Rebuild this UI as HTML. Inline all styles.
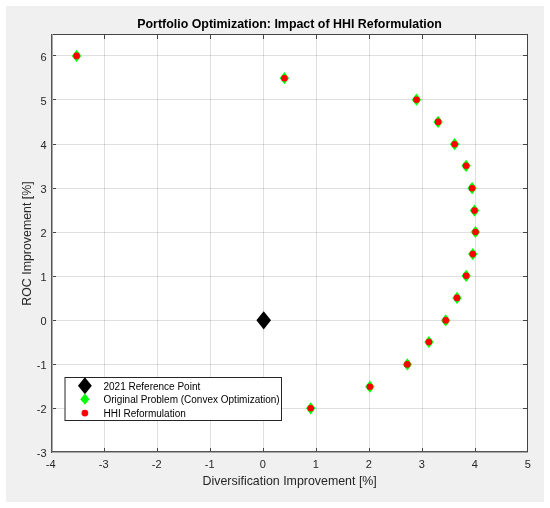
<!DOCTYPE html>
<html><head><meta charset="utf-8"><style>
html,body{margin:0;padding:0;background:#fff;}
svg{display:block;}
text{font-family:"Liberation Sans",Arial,sans-serif;}
</style></head><body>
<svg width="550" height="508" viewBox="0 0 550 508">
<rect x="0" y="0" width="550" height="508" fill="#ffffff"/>
<g>
<rect x="6" y="6" width="538" height="496" fill="#f0f0f0"/>

<rect x="51" y="34" width="477" height="418" fill="#ffffff"/>
<rect x="104" y="34" width="1" height="417" fill="rgba(38,38,38,0.15)"/>
<rect x="157" y="34" width="1" height="417" fill="rgba(38,38,38,0.15)"/>
<rect x="210" y="34" width="1" height="417" fill="rgba(38,38,38,0.15)"/>
<rect x="263" y="34" width="1" height="417" fill="rgba(38,38,38,0.15)"/>
<rect x="316" y="34" width="1" height="417" fill="rgba(38,38,38,0.15)"/>
<rect x="369" y="34" width="1" height="417" fill="rgba(38,38,38,0.15)"/>
<rect x="422" y="34" width="1" height="417" fill="rgba(38,38,38,0.15)"/>
<rect x="475" y="34" width="1" height="417" fill="rgba(38,38,38,0.15)"/>
<rect x="51" y="408" width="476" height="1" fill="rgba(38,38,38,0.15)"/>
<rect x="51" y="364" width="476" height="1" fill="rgba(38,38,38,0.15)"/>
<rect x="51" y="320" width="476" height="1" fill="rgba(38,38,38,0.15)"/>
<rect x="51" y="276" width="476" height="1" fill="rgba(38,38,38,0.15)"/>
<rect x="51" y="232" width="476" height="1" fill="rgba(38,38,38,0.15)"/>
<rect x="51" y="188" width="476" height="1" fill="rgba(38,38,38,0.15)"/>
<rect x="51" y="144" width="476" height="1" fill="rgba(38,38,38,0.15)"/>
<rect x="51" y="99" width="476" height="1" fill="rgba(38,38,38,0.15)"/>
<rect x="51" y="55" width="476" height="1" fill="rgba(38,38,38,0.15)"/>
<rect x="104" y="34" width="1" height="5" fill="#444"/>
<rect x="104" y="448" width="1" height="4" fill="#444"/>
<rect x="157" y="34" width="1" height="5" fill="#444"/>
<rect x="157" y="448" width="1" height="4" fill="#444"/>
<rect x="210" y="34" width="1" height="5" fill="#444"/>
<rect x="210" y="448" width="1" height="4" fill="#444"/>
<rect x="263" y="34" width="1" height="5" fill="#444"/>
<rect x="263" y="448" width="1" height="4" fill="#444"/>
<rect x="316" y="34" width="1" height="5" fill="#444"/>
<rect x="316" y="448" width="1" height="4" fill="#444"/>
<rect x="369" y="34" width="1" height="5" fill="#444"/>
<rect x="369" y="448" width="1" height="4" fill="#444"/>
<rect x="422" y="34" width="1" height="5" fill="#444"/>
<rect x="422" y="448" width="1" height="4" fill="#444"/>
<rect x="475" y="34" width="1" height="5" fill="#444"/>
<rect x="475" y="448" width="1" height="4" fill="#444"/>
<rect x="51" y="408" width="5" height="1" fill="#444"/>
<rect x="523" y="408" width="5" height="1" fill="#444"/>
<rect x="51" y="364" width="5" height="1" fill="#444"/>
<rect x="523" y="364" width="5" height="1" fill="#444"/>
<rect x="51" y="320" width="5" height="1" fill="#444"/>
<rect x="523" y="320" width="5" height="1" fill="#444"/>
<rect x="51" y="276" width="5" height="1" fill="#444"/>
<rect x="523" y="276" width="5" height="1" fill="#444"/>
<rect x="51" y="232" width="5" height="1" fill="#444"/>
<rect x="523" y="232" width="5" height="1" fill="#444"/>
<rect x="51" y="188" width="5" height="1" fill="#444"/>
<rect x="523" y="188" width="5" height="1" fill="#444"/>
<rect x="51" y="144" width="5" height="1" fill="#444"/>
<rect x="523" y="144" width="5" height="1" fill="#444"/>
<rect x="51" y="99" width="5" height="1" fill="#444"/>
<rect x="523" y="99" width="5" height="1" fill="#444"/>
<rect x="51" y="55" width="5" height="1" fill="#444"/>
<rect x="523" y="55" width="5" height="1" fill="#444"/>
<rect x="51" y="34" width="477" height="1" fill="#444"/>
<rect x="51" y="452" width="477" height="1" fill="#a8a8a8"/>
<rect x="52" y="34" width="1" height="419" fill="#a8a8a8"/>
<rect x="51" y="451" width="477" height="1" fill="#555"/>
<rect x="51" y="34" width="1" height="419" fill="#555"/>
<rect x="527" y="34" width="1" height="418" fill="#444"/>
<polygon points="76.6,49.8 81.3,55.9 76.6,62.0 71.89999999999999,55.9" fill="#00ff00"/>
<polygon points="284.4,72.10000000000001 289.09999999999997,78.2 284.4,84.3 279.7,78.2" fill="#00ff00"/>
<polygon points="416.5,93.60000000000001 421.2,99.7 416.5,105.8 411.8,99.7" fill="#00ff00"/>
<polygon points="438.1,115.80000000000001 442.8,121.9 438.1,128.0 433.40000000000003,121.9" fill="#00ff00"/>
<polygon points="454.6,138.1 459.3,144.2 454.6,150.29999999999998 449.90000000000003,144.2" fill="#00ff00"/>
<polygon points="466.1,159.70000000000002 470.8,165.8 466.1,171.9 461.40000000000003,165.8" fill="#00ff00"/>
<polygon points="472.1,182.1 476.8,188.2 472.1,194.29999999999998 467.40000000000003,188.2" fill="#00ff00"/>
<polygon points="474.5,204.5 479.2,210.6 474.5,216.7 469.8,210.6" fill="#00ff00"/>
<polygon points="475.5,225.9 480.2,232.0 475.5,238.1 470.8,232.0" fill="#00ff00"/>
<polygon points="472.8,248.0 477.5,254.1 472.8,260.2 468.1,254.1" fill="#00ff00"/>
<polygon points="466.2,269.7 470.9,275.8 466.2,281.90000000000003 461.5,275.8" fill="#00ff00"/>
<polygon points="457.0,291.79999999999995 461.7,297.9 457.0,304.0 452.3,297.9" fill="#00ff00"/>
<polygon points="445.7,314.29999999999995 450.4,320.4 445.7,326.5 441.0,320.4" fill="#00ff00"/>
<polygon points="428.9,335.9 433.59999999999997,342.0 428.9,348.1 424.2,342.0" fill="#00ff00"/>
<polygon points="407.3,358.29999999999995 412.0,364.4 407.3,370.5 402.6,364.4" fill="#00ff00"/>
<polygon points="369.9,380.59999999999997 374.59999999999997,386.7 369.9,392.8 365.2,386.7" fill="#00ff00"/>
<polygon points="310.7,402.2 315.4,408.3 310.7,414.40000000000003 306.0,408.3" fill="#00ff00"/>
<circle cx="76.6" cy="55.9" r="3.3" fill="#ff0000"/>
<circle cx="284.4" cy="78.2" r="3.3" fill="#ff0000"/>
<circle cx="416.5" cy="99.7" r="3.3" fill="#ff0000"/>
<circle cx="438.1" cy="121.9" r="3.3" fill="#ff0000"/>
<circle cx="454.6" cy="144.2" r="3.3" fill="#ff0000"/>
<circle cx="466.1" cy="165.8" r="3.3" fill="#ff0000"/>
<circle cx="472.1" cy="188.2" r="3.3" fill="#ff0000"/>
<circle cx="474.5" cy="210.6" r="3.3" fill="#ff0000"/>
<circle cx="475.5" cy="232.0" r="3.3" fill="#ff0000"/>
<circle cx="472.8" cy="254.1" r="3.3" fill="#ff0000"/>
<circle cx="466.2" cy="275.8" r="3.3" fill="#ff0000"/>
<circle cx="457.0" cy="297.9" r="3.3" fill="#ff0000"/>
<circle cx="445.7" cy="320.4" r="3.3" fill="#ff0000"/>
<circle cx="428.9" cy="342.0" r="3.3" fill="#ff0000"/>
<circle cx="407.3" cy="364.4" r="3.3" fill="#ff0000"/>
<circle cx="369.9" cy="386.7" r="3.3" fill="#ff0000"/>
<circle cx="310.7" cy="408.3" r="3.3" fill="#ff0000"/>
<polygon points="263.7,311.2 271.0,320.3 263.7,329.40000000000003 256.4,320.3" fill="#000000"/>
<text x="50.7" y="468" font-size="11" fill="#262626" text-anchor="middle">-4</text>
<text x="103.7" y="468" font-size="11" fill="#262626" text-anchor="middle">-3</text>
<text x="156.7" y="468" font-size="11" fill="#262626" text-anchor="middle">-2</text>
<text x="209.7" y="468" font-size="11" fill="#262626" text-anchor="middle">-1</text>
<text x="262.7" y="468" font-size="11" fill="#262626" text-anchor="middle">0</text>
<text x="315.7" y="468" font-size="11" fill="#262626" text-anchor="middle">1</text>
<text x="368.7" y="468" font-size="11" fill="#262626" text-anchor="middle">2</text>
<text x="421.7" y="468" font-size="11" fill="#262626" text-anchor="middle">3</text>
<text x="474.7" y="468" font-size="11" fill="#262626" text-anchor="middle">4</text>
<text x="527.7" y="468" font-size="11" fill="#262626" text-anchor="middle">5</text>
<text x="46.5" y="457.0" font-size="11" fill="#262626" text-anchor="end">-3</text>
<text x="46.5" y="413.0" font-size="11" fill="#262626" text-anchor="end">-2</text>
<text x="46.5" y="369.0" font-size="11" fill="#262626" text-anchor="end">-1</text>
<text x="46.5" y="325.0" font-size="11" fill="#262626" text-anchor="end">0</text>
<text x="46.5" y="281.0" font-size="11" fill="#262626" text-anchor="end">1</text>
<text x="46.5" y="237.0" font-size="11" fill="#262626" text-anchor="end">2</text>
<text x="46.5" y="193.0" font-size="11" fill="#262626" text-anchor="end">3</text>
<text x="46.5" y="149.0" font-size="11" fill="#262626" text-anchor="end">4</text>
<text x="46.5" y="105.0" font-size="11" fill="#262626" text-anchor="end">5</text>
<text x="46.5" y="61.0" font-size="11" fill="#262626" text-anchor="end">6</text>
<text x="289.6" y="28.0" font-size="12.42" font-weight="bold" fill="#000" text-anchor="middle">Portfolio Optimization: Impact of HHI Reformulation</text>
<text x="289.7" y="485.3" font-size="12.4" fill="#262626" text-anchor="middle">Diversification Improvement [%]</text>
<text transform="translate(30.8,243.5) rotate(-90)" x="0" y="0" font-size="12.38" fill="#262626" text-anchor="middle">ROC Improvement [%]</text>
<rect x="65" y="377.5" width="216.5" height="43" fill="#ffffff" stroke="#262626" stroke-width="1"/>
<polygon points="84.9,377.3 91.85000000000001,385.8 84.9,394.3 77.95,385.8" fill="#000000"/>
<polygon points="84.9,393.59999999999997 89.55000000000001,399.2 84.9,404.8 80.25,399.2" fill="#00ff00"/>
<circle cx="84.9" cy="413.1" r="3.4" fill="#ff0000"/>
<text x="103.5" y="389.7" font-size="10" fill="#000">2021 Reference Point</text>
<text x="103.5" y="403.1" font-size="10" fill="#000">Original Problem (Convex Optimization)</text>
<text x="103.5" y="416.7" font-size="10" fill="#000">HHI Reformulation</text>
</g></svg></body></html>
